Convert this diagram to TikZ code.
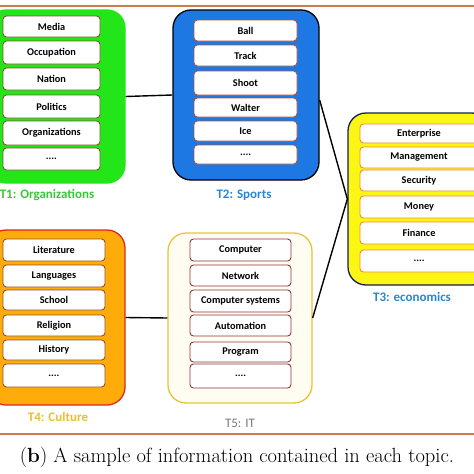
\documentclass[tikz,border=0pt]{standalone}
\usepackage{fontspec}
\newfontfamily\carlito{Carlito}
\definecolor{rule}{RGB}{205,125,75}
\definecolor{gfill}{RGB}{35,230,25}
\definecolor{bfill}{RGB}{30,120,228}
\definecolor{yfill}{RGB}{252,246,20}
\definecolor{ofill}{RGB}{255,172,10}
\definecolor{wfill}{RGB}{255,252,242}
\definecolor{navy}{RGB}{20,30,80}
\definecolor{ored}{RGB}{225,40,30}
\definecolor{gold}{RGB}{232,195,60}
\definecolor{brownA}{RGB}{130,85,45}
\definecolor{brownB}{RGB}{175,85,60}
\definecolor{orangeC}{RGB}{240,140,40}
\definecolor{brownD}{RGB}{150,80,30}
\definecolor{redE}{RGB}{140,55,55}
\definecolor{lgreen}{RGB}{55,200,55}
\definecolor{lblue}{RGB}{40,135,210}
\definecolor{lyel}{RGB}{232,192,45}
\definecolor{lgray}{RGB}{120,120,120}
\begin{document}
\begin{tikzpicture}[x=1pt,y=-1pt,
  container/.style={rounded corners=18pt, line width=1.3pt, inner sep=0pt},
  item/.style={draw, fill=white, rounded corners=3.5pt, line width=0.9pt, inner sep=0pt,
    font=\carlito\bfseries\fontsize{10.3}{12}\selectfont},
  toplabel/.style={font=\carlito\bfseries\fontsize{13}{15}\selectfont, inner sep=0pt},
  link/.style={line width=1.4pt, black}]
\useasboundingbox (0,0) rectangle (474,474);
\draw[rule, line width=1.5pt] (0,6) -- (474,6);
\draw[rule, line width=1.5pt] (0,434) -- (474,434);
% containers
\node[container, draw=gfill, fill=gfill, minimum width=137pt, minimum height=173pt] (T1) at (56.5,96.5) {};
\node[container, draw=black, fill=bfill, minimum width=146pt, minimum height=170pt] (T2) at (246,95) {};
\node[container, draw=navy, fill=yfill, minimum width=142pt, minimum height=172pt] (T3) at (419,199) {};
\node[container, draw=ored, fill=ofill, minimum width=137pt, minimum height=175pt] (T4) at (56.5,317.5) {};
\node[container, draw=gold, fill=wfill, minimum width=144pt, minimum height=170pt] (T5) at (240,318) {};
% T1 items
\begin{scope}[every node/.append style={item, draw=brownA, minimum width=97pt}]
\node[minimum height=21pt] (a1) at (51.5,26.5) {Media};
\node[minimum height=23pt] (a2) at (51.5,52.5) {Occupation};
\node[minimum height=22pt] (a3) at (51.5,79) {Nation};
\node[minimum height=23pt] (a4) at (51.5,106.5) {Politics};
\node[minimum height=24pt] (a5) at (51.5,133) {Organizations};
\node[minimum height=22pt] (a6) at (51.5,159) {....};
\end{scope}
% T2 items
\begin{scope}[every node/.append style={item, draw=brownB, minimum width=103pt}]
\node[minimum height=21pt] (b1) at (245.5,30.5) {Ball};
\node[minimum height=21pt] (b2) at (245.5,55.5) {Track};
\node[minimum height=24pt] (b3) at (245.5,83) {Shoot};
\node[minimum height=19pt] (b4) at (245.5,107.5) {Walter};
\node[minimum height=20pt] (b5) at (245.5,131) {Ice};
\node[minimum height=19pt] (b6) at (245.5,154.5) {....};
\end{scope}
% T3 items
\begin{scope}[every node/.append style={item, draw=orangeC, minimum width=118pt}]
\node[minimum height=19pt] (c1) at (419,133.5) {Enterprise};
\node[minimum height=21pt] (c2) at (419,157.5) {Management};
\node[minimum height=21pt] (c3) at (419,180.5) {Security};
\node[minimum height=22pt] (c4) at (419,207) {Money};
\node[minimum height=22pt] (c5) at (419,233) {Finance};
\node[minimum height=22pt] (c6) at (419,261) {....};
\end{scope}
% T4 items
\begin{scope}[every node/.append style={item, draw=brownD, minimum width=102pt}]
\node[minimum height=22pt] (d1) at (54,250) {Literature};
\node[minimum height=22pt] (d2) at (54,276) {Languages};
\node[minimum height=20pt] (d3) at (54,300) {School};
\node[minimum height=21pt] (d4) at (54,325.5) {Religion};
\node[minimum height=20pt] (d5) at (54,350) {History};
\node[minimum height=23pt] (d6) at (54,375.5) {....};
\end{scope}
% T5 items
\begin{scope}[every node/.append style={item, draw=redE, minimum width=101pt}]
\node[minimum height=22pt] (e1) at (240.5,250) {Computer};
\node[minimum height=21pt] (e2) at (240.5,275.5) {Network};
\node[minimum height=22pt] (e3) at (240.5,301) {Computer systems};
\node[minimum height=21pt] (e4) at (240.5,325.5) {Automation};
\node[minimum height=20pt] (e5) at (240.5,352) {Program};
\node[minimum height=24pt] (e6) at (240.5,376) {....};
\end{scope}
% labels
\node[toplabel, text=lgreen] (L1) at (47,195) {T1: Organizations};
\node[toplabel, text=lblue] (L2) at (244,195) {T2: Sports};
\node[toplabel, text=lblue] (L3) at (412,297) {T3: economics};
\node[toplabel, text=lyel] (L4) at (58,417) {T4: Culture};
\node[toplabel, text=lgray, font=\carlito\fontsize{13}{15}\selectfont] (L5) at (240,423) {T5: IT};
% connectors
\draw[link] (T1.east) -- (T2.west);
\draw[link] ([yshift=-5pt]T2.east) -- (T3.west);
\draw[link] (T3.west) -- (T5.east);
\draw[link] (T4.east) -- (T5.west);
% caption
\node[font=\fontsize{20.5}{24}\selectfont, inner sep=0pt] (cap) at (237,457) {(\textbf{b}) A sample of information contained in each topic.};
\end{tikzpicture}
\end{document}
